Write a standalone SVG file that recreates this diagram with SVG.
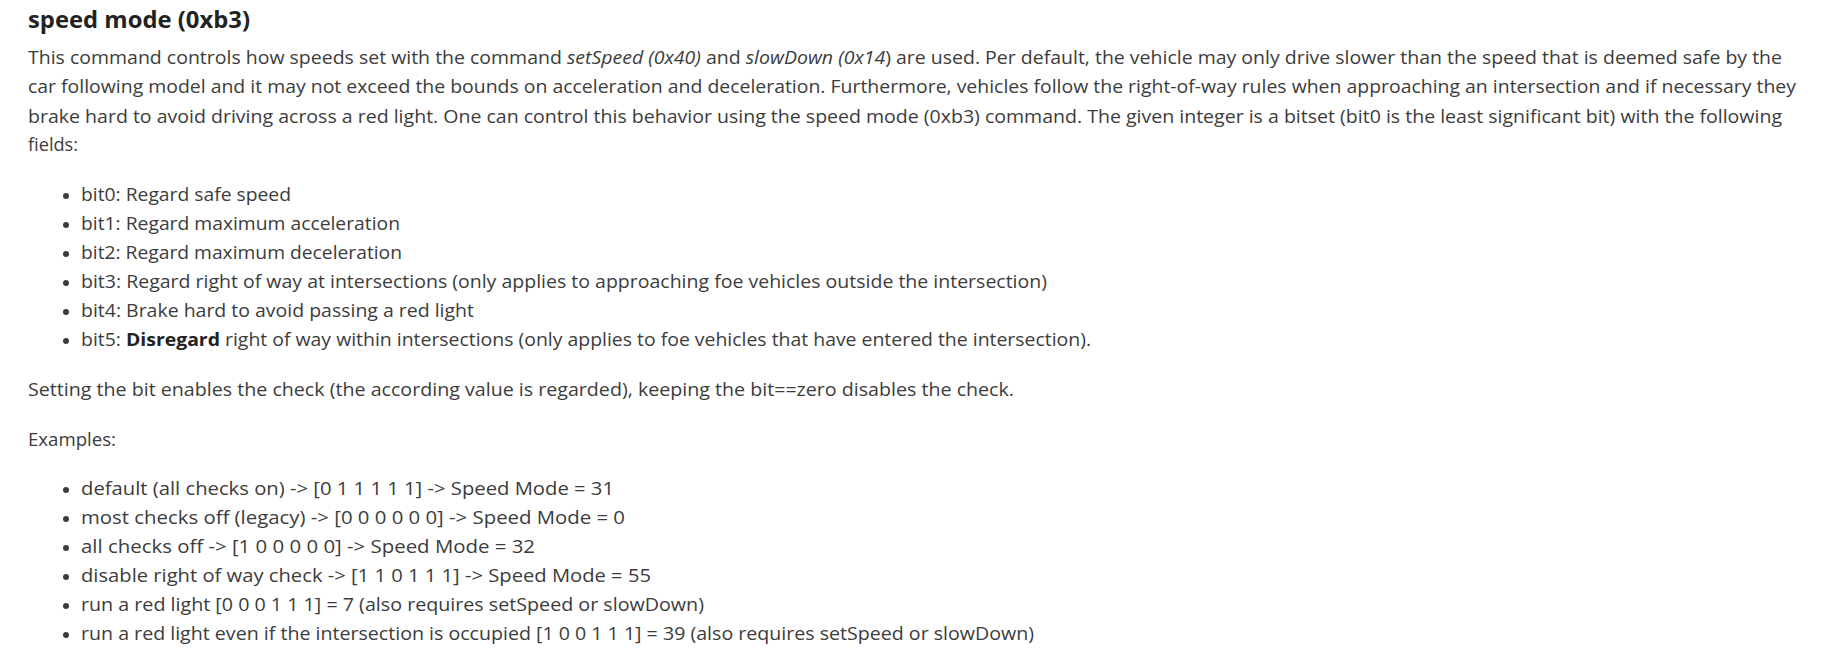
<svg xmlns="http://www.w3.org/2000/svg" width="1824" height="653" viewBox="0 0 1824 653">
<style>
text{font-family:"Open Sans","Noto Sans","Liberation Sans",sans-serif;font-size:18.5px;fill:#3c3c3c}
.t{font-size:23px;font-weight:bold;fill:#222}
.i{font-style:italic}
.b{font-weight:bold;fill:#222}
circle{fill:#3c3c3c}
</style>
<rect width="1824" height="653" fill="#fff"/>
<g id="title"><text class="t" x="28" y="28" textLength="222" lengthAdjust="spacingAndGlyphs">speed mode (0xb3)</text></g>
<g id="intro">
<text x="28" y="64" textLength="1754" lengthAdjust="spacingAndGlyphs">This command controls how speeds set with the command <tspan class="i">setSpeed (0x40)</tspan> and <tspan class="i">slowDown (0x14</tspan>) are used. Per default, the vehicle may only drive slower than the speed that is deemed safe by the</text>
<text x="28" y="93" textLength="1768" lengthAdjust="spacingAndGlyphs">car following model and it may not exceed the bounds on acceleration and deceleration. Furthermore, vehicles follow the right-of-way rules when approaching an intersection and if necessary they</text>
<text x="28" y="123" textLength="1754" lengthAdjust="spacingAndGlyphs">brake hard to avoid driving across a red light. One can control this behavior using the speed mode (0xb3) command. The given integer is a bitset (bit0 is the least significant bit) with the following</text>
<text x="28" y="151" textLength="50" lengthAdjust="spacingAndGlyphs">fields:</text>
</g>
<g id="bits">
<circle cx="66" cy="196" r="3"/><text x="81" y="201" textLength="210" lengthAdjust="spacingAndGlyphs">bit0: Regard safe speed</text>
<circle cx="66" cy="225" r="3"/><text x="81" y="230" textLength="319" lengthAdjust="spacingAndGlyphs">bit1: Regard maximum acceleration</text>
<circle cx="66" cy="254" r="3"/><text x="81" y="259" textLength="321" lengthAdjust="spacingAndGlyphs">bit2: Regard maximum deceleration</text>
<circle cx="66" cy="283" r="3"/><text x="81" y="288" textLength="966" lengthAdjust="spacingAndGlyphs">bit3: Regard right of way at intersections (only applies to approaching foe vehicles outside the intersection)</text>
<circle cx="66" cy="312" r="3"/><text x="81" y="317" textLength="393" lengthAdjust="spacingAndGlyphs">bit4: Brake hard to avoid passing a red light</text>
<circle cx="66" cy="341" r="3"/><text x="81" y="346" textLength="1010" lengthAdjust="spacingAndGlyphs">bit5: <tspan class="b">Disregard</tspan> right of way within intersections (only applies to foe vehicles that have entered the intersection).</text>
</g>
<g id="notes">
<text x="28" y="396" textLength="986" lengthAdjust="spacingAndGlyphs">Setting the bit enables the check (the according value is regarded), keeping the bit==zero disables the check.</text>
<text x="28" y="446" textLength="88" lengthAdjust="spacingAndGlyphs">Examples:</text>
</g>
<g id="examples">
<circle cx="66" cy="490" r="3"/><text x="81" y="495" textLength="533" lengthAdjust="spacingAndGlyphs">default (all checks on) -&gt; [0 1 1 1 1 1] -&gt; Speed Mode = 31</text>
<circle cx="66" cy="519" r="3"/><text x="81" y="524" textLength="544" lengthAdjust="spacingAndGlyphs">most checks off (legacy) -&gt; [0 0 0 0 0 0] -&gt; Speed Mode = 0</text>
<circle cx="66" cy="548" r="3"/><text x="81" y="553" textLength="454" lengthAdjust="spacingAndGlyphs">all checks off -&gt; [1 0 0 0 0 0] -&gt; Speed Mode = 32</text>
<circle cx="66" cy="577" r="3"/><text x="81" y="582" textLength="570" lengthAdjust="spacingAndGlyphs">disable right of way check -&gt; [1 1 0 1 1 1] -&gt; Speed Mode = 55</text>
<circle cx="66" cy="606" r="3"/><text x="81" y="611" textLength="623" lengthAdjust="spacingAndGlyphs">run a red light [0 0 0 1 1 1] = 7 (also requires setSpeed or slowDown)</text>
<circle cx="66" cy="635" r="3"/><text x="81" y="640" textLength="953" lengthAdjust="spacingAndGlyphs">run a red light even if the intersection is occupied [1 0 0 1 1 1] = 39 (also requires setSpeed or slowDown)</text>
</g>
</svg>
